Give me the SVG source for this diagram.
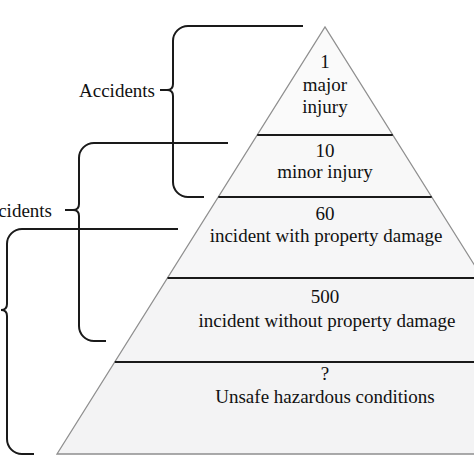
<svg xmlns="http://www.w3.org/2000/svg" width="474" height="474" viewBox="0 0 474 474">
<style>
.band{stroke:none}
.edge{fill:none;stroke:#8f8f8f;stroke-width:1.3}
.div{stroke:#1a1a1a;stroke-width:2;fill:none}
.br{fill:none;stroke:#1a1a1a;stroke-width:2;stroke-linecap:butt}
text{font-family:"Liberation Serif","Times New Roman",serif;font-size:19px;fill:#111111}
.c{text-anchor:middle}
</style>
<rect width="474" height="474" fill="#ffffff"/>
<g id="level1">
<polygon class="band" fill="#fafafa" points="325,27 257.2,135 392.8,135"/>
<text class="c" x="325" y="68">1</text>
<text class="c" x="325" y="91">major</text>
<text class="c" x="325" y="113">injury</text>
</g>
<g id="level2">
<polygon class="band" fill="#f8f8f8" points="257.2,135 392.8,135 431.7,197 218.3,197"/>
<text class="c" x="325" y="157">10</text>
<text class="c" x="325" y="178">minor injury</text>
</g>
<g id="level3">
<polygon class="band" fill="#f6f6f7" points="218.3,197 431.7,197 482.5,278 167.5,278"/>
<text class="c" x="325" y="220">60</text>
<text class="c" x="326" y="242">incident with property damage</text>
</g>
<g id="level4">
<polygon class="band" fill="#f4f4f5" points="167.5,278 482.5,278 535.2,362 114.8,362"/>
<text class="c" x="325" y="303">500</text>
<text class="c" x="327" y="327">incident without property damage</text>
</g>
<g id="level5">
<polygon class="band" fill="#f3f3f4" points="114.8,362 535.2,362 593,454 57,454"/>
<text class="c" x="325" y="380">?</text>
<text class="c" x="325" y="403">Unsafe hazardous conditions</text>
</g>
<g id="outline">
<polyline class="edge" points="593,454 57,454 325,27 593,454"/>
<line class="div" x1="257.2" y1="135" x2="392.8" y2="135"/>
<line class="div" x1="218.3" y1="197" x2="431.7" y2="197"/>
<line class="div" x1="167.5" y1="278" x2="474" y2="278"/>
<line class="div" x1="114.8" y1="362" x2="474" y2="362"/>
</g>
<g id="label-accidents">
<text x="155" y="97" text-anchor="end">Accidents</text>
</g>
<g id="label-incidents">
<text x="52" y="217" text-anchor="end">Incidents</text>
</g>
<g id="connectors">
<path class="br" d="M303,26 H188 A15,15 0 0 0 173,41 V84 Q173,90 167,90 Q173,90 173,96 V182 A15,15 0 0 0 188,197 H204"/>
<line class="br" x1="160" y1="90" x2="168" y2="90"/>
<path class="br" d="M228,143 H94 A15,15 0 0 0 79,158 V204 Q79,210 73,210 Q79,210 79,216 V326 A15,15 0 0 0 94,341 H106"/>
<line class="br" x1="65" y1="210" x2="74" y2="210"/>
<path class="br" d="M178,229 H22 A15,15 0 0 0 7,244 V304 Q7,310 1,310 Q7,310 7,316 V439 A15,15 0 0 0 22,454 H34"/>
</g>
</svg>
